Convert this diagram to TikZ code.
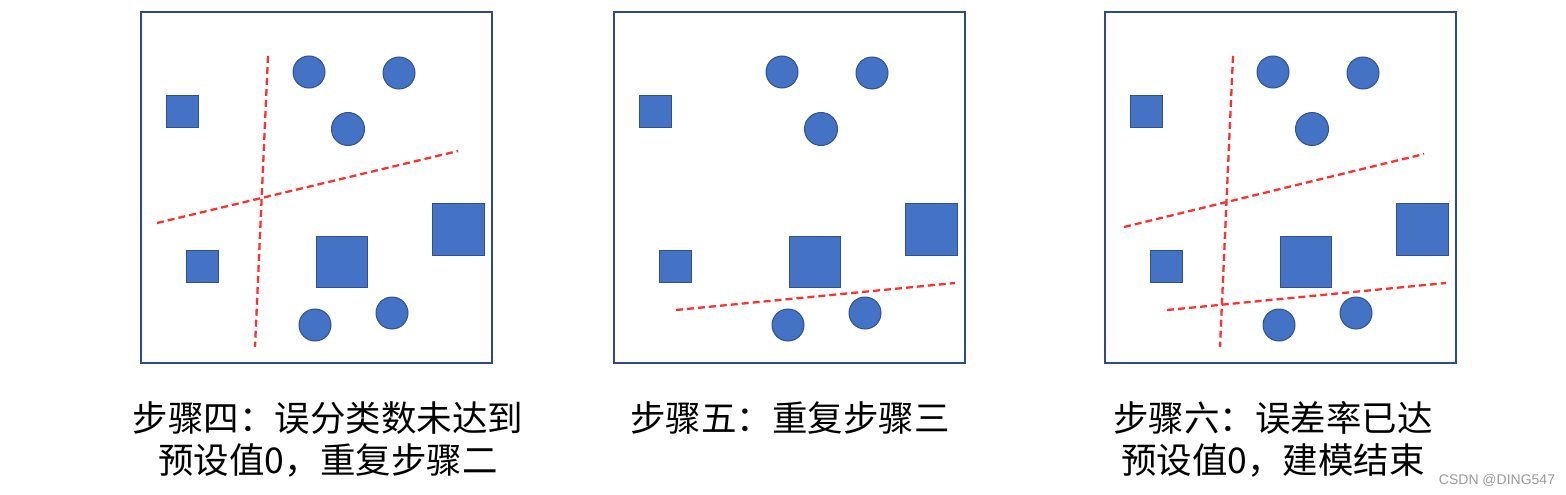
\documentclass[tikz,border=0pt]{standalone}
\usepackage{fontspec}
\newfontfamily\cjk{Noto Sans CJK SC}
\newfontfamily\wmfont{Liberation Sans}
\usetikzlibrary{positioning}

\definecolor{ptfill}{HTML}{4472C4}
\definecolor{ptedge}{HTML}{2F528F}
\definecolor{frame}{HTML}{2F4A8A}
\definecolor{cut}{HTML}{FF3030}

\tikzset{
  dot/.style={circle, fill=ptfill, draw=ptedge, line width=1pt, inner sep=0pt},
  sqr/.style={rectangle, fill=ptfill, draw=ptedge, line width=1pt, inner sep=0pt},
  cutline/.style={cut, line width=2.3pt, dash pattern=on 7pt off 4pt},
  caption/.style={font=\cjk\fontsize{35.5}{42}\selectfont, align=center, inner sep=0pt}
}

\begin{document}
\begin{tikzpicture}[x=1pt, y=-1pt]

\useasboundingbox (0,0) rectangle (1566,495);

% three panels, same points
\foreach \i/\s in {1/0, 2/473, 3/964}{
  \begin{scope}[xshift=\s pt]
    \draw[frame, line width=1.8pt] (141,12) rectangle (492,363);
    \node[sqr, minimum size=32pt] (sqa\i) at (182,111) {};
    \node[sqr, minimum size=32pt] (sqb\i) at (202,266) {};
    \node[sqr, minimum size=51pt] (sqc\i) at (342,262) {};
    \node[sqr, minimum size=52pt] (sqd\i) at (458,229) {};
    \node[dot, minimum size=32pt] (cia\i) at (309,72) {};
    \node[dot, minimum size=32pt] (cib\i) at (399,73) {};
    \node[dot, minimum size=33pt] (cic\i) at (348,129) {};
    \node[dot, minimum size=32pt] (cid\i) at (315,325) {};
    \node[dot, minimum size=32pt] (cie\i) at (392,313) {};
  \end{scope}
}

% step four
\coordinate (va1) at (268,56);
\coordinate (vb1) at (255,347);
\coordinate (da1) at (157,223);
\coordinate (db1) at (458,151);
\draw[cutline] (va1) -- (vb1);
\draw[cutline] (da1) -- (db1);

% step five
\coordinate (ha2) at (676,310);
\coordinate (hb2) at (955,283);
\draw[cutline] (ha2) -- (hb2);

% step six
\coordinate (va3) at (1233,56);
\coordinate (vb3) at (1220,347);
\coordinate (da3) at (1124,227);
\coordinate (db3) at (1424,154);
\coordinate (ha3) at (1167,310);
\coordinate (hb3) at (1446,283);
\draw[cutline] (va3) -- (vb3);
\draw[cutline] (da3) -- (db3);
\draw[cutline] (ha3) -- (hb3);

% captions
\node[caption] (cap1) at (328,439) {步骤四：误分类数未达到\\预设值0，重复步骤二};
\node[caption, anchor=center] (cap2) at (790,418) {步骤五：重复步骤三};
\node[caption] (cap3) at (1273,439) {步骤六：误差率已达\\预设值0，建模结束};

\node[font=\wmfont\fontsize{14}{16}\selectfont, text=black!40, inner sep=0pt] (mark) at (1497,480) {CSDN @DING547};

\end{tikzpicture}
\end{document}
